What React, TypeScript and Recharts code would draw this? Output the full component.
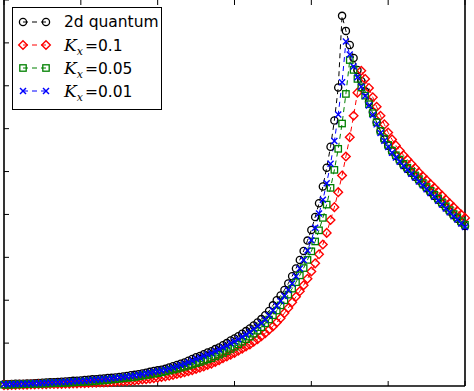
import React from 'react';
import { Line, LineChart, XAxis, YAxis } from 'recharts';

// temperature grid (x) and the four curves
const temps = [
  0, 0.05, 0.1, 0.15, 0.2, 0.25, 0.3, 0.35, 0.4, 0.45,
  0.5, 0.55, 0.6, 0.65, 0.7, 0.75, 0.8, 0.85, 0.9, 0.95,
  1, 1.05, 1.1, 1.15, 1.2, 1.25, 1.3, 1.35, 1.4, 1.45,
  1.5, 1.55, 1.6, 1.65, 1.7, 1.75, 1.8, 1.85, 1.9, 1.95,
  2, 2.05, 2.1, 2.15, 2.2, 2.25, 2.3, 2.35, 2.4, 2.45,
  2.5, 2.55, 2.6, 2.65, 2.7, 2.75, 2.8, 2.85, 2.9, 2.95,
  3, 3.05, 3.1, 3.15, 3.2, 3.25, 3.3, 3.35, 3.4, 3.45,
  3.5, 3.55, 3.6, 3.65, 3.7, 3.75, 3.8, 3.85, 3.9, 3.95,
  4, 4.05, 4.1, 4.15, 4.2, 4.25, 4.3, 4.35, 4.4, 4.45,
  4.5, 4.55, 4.6, 4.65, 4.7, 4.75, 4.8, 4.85, 4.9, 4.95,
  5, 5.05, 5.1, 5.15, 5.2, 5.25, 5.3, 5.35, 5.4, 5.45,
  5.5, 5.55, 5.6, 5.65, 5.7, 5.75, 5.8, 5.85, 5.9, 5.95,
  6,
];

const quantum2d = [
  0.04, 0.04, 0.045, 0.05, 0.05, 0.055, 0.06, 0.06, 0.065, 0.07,
  0.075, 0.08, 0.085, 0.09, 0.095, 0.1, 0.105, 0.11, 0.12, 0.125,
  0.13, 0.14, 0.145, 0.155, 0.16, 0.17, 0.175, 0.185, 0.19, 0.2,
  0.21, 0.22, 0.235, 0.25, 0.26, 0.275, 0.29, 0.31, 0.33, 0.35,
  0.365, 0.38, 0.4, 0.43, 0.46, 0.49, 0.52, 0.55, 0.59, 0.63,
  0.67, 0.7, 0.74, 0.78, 0.81, 0.86, 0.9, 0.95, 1.0, 1.06,
  1.11, 1.16, 1.22, 1.28, 1.34, 1.41, 1.48, 1.56, 1.65, 1.75,
  1.88, 2.0, 2.11, 2.24, 2.39, 2.56, 2.74, 2.94, 3.15, 3.39,
  3.64, 3.94, 4.26, 4.65, 5.09, 5.58, 6.19, 6.96, 8.63, 8.28,
  7.95, 7.65, 7.37, 7.11, 6.87, 6.63, 6.39, 6.15, 5.94, 5.75,
  5.6, 5.47, 5.36, 5.25, 5.15, 5.06, 4.97, 4.88, 4.79, 4.7,
  4.61, 4.52, 4.43, 4.34, 4.25, 4.16, 4.07, 3.98, 3.9, 3.81,
  3.73,
];

const kx01 = [
  0.02, 0.02, 0.025, 0.025, 0.03, 0.03, 0.03, 0.035, 0.035, 0.04,
  0.04, 0.04, 0.045, 0.045, 0.05, 0.05, 0.055, 0.055, 0.06, 0.06,
  0.065, 0.065, 0.07, 0.075, 0.075, 0.08, 0.085, 0.09, 0.095, 0.1,
  0.105, 0.11, 0.12, 0.125, 0.13, 0.14, 0.15, 0.16, 0.17, 0.18,
  0.195, 0.21, 0.225, 0.24, 0.26, 0.28, 0.3, 0.32, 0.345, 0.37,
  0.395, 0.425, 0.455, 0.49, 0.52, 0.56, 0.6, 0.65, 0.69, 0.73,
  0.77, 0.82, 0.87, 0.92, 0.97, 1.03, 1.09, 1.16, 1.23, 1.31,
  1.39, 1.48, 1.58, 1.7, 1.82, 1.95, 2.08, 2.21, 2.35, 2.5,
  2.67, 2.86, 3.07, 3.3, 3.57, 3.87, 4.17, 4.52, 4.91, 5.35,
  5.8, 6.3, 6.84, 7.35, 7.16, 6.95, 6.73, 6.51, 6.3, 6.1,
  5.91, 5.75, 5.61, 5.49, 5.38, 5.28, 5.18, 5.08, 4.98, 4.89,
  4.8, 4.71, 4.62, 4.53, 4.44, 4.35, 4.26, 4.17, 4.08, 4.0,
  3.92,
];

const kx005 = [
  0.03, 0.03, 0.035, 0.035, 0.04, 0.04, 0.045, 0.045, 0.05, 0.05,
  0.055, 0.06, 0.06, 0.065, 0.07, 0.07, 0.075, 0.08, 0.085, 0.09,
  0.095, 0.1, 0.105, 0.11, 0.12, 0.125, 0.13, 0.14, 0.15, 0.16,
  0.17, 0.18, 0.19, 0.2, 0.21, 0.225, 0.24, 0.255, 0.27, 0.285,
  0.3, 0.32, 0.34, 0.36, 0.38, 0.4, 0.425, 0.45, 0.475, 0.5,
  0.53, 0.56, 0.59, 0.62, 0.65, 0.69, 0.73, 0.77, 0.815, 0.865,
  0.915, 0.97, 1.03, 1.09, 1.15, 1.22, 1.29, 1.37, 1.46, 1.55,
  1.65, 1.76, 1.88, 2.0, 2.13, 2.27, 2.42, 2.58, 2.75, 2.94,
  3.14, 3.37, 3.63, 3.92, 4.23, 4.62, 5.04, 5.53, 6.12, 6.81,
  7.6, 7.37, 7.16, 6.96, 6.77, 6.57, 6.36, 6.15, 5.95, 5.77,
  5.62, 5.49, 5.38, 5.28, 5.18, 5.09, 5.0, 4.91, 4.82, 4.73,
  4.64, 4.55, 4.46, 4.37, 4.28, 4.19, 4.1, 4.01, 3.93, 3.84,
  3.76,
];

const kx001 = [
  0.04, 0.04, 0.045, 0.045, 0.05, 0.055, 0.055, 0.06, 0.065, 0.065,
  0.07, 0.075, 0.08, 0.085, 0.09, 0.095, 0.1, 0.105, 0.11, 0.115,
  0.12, 0.125, 0.135, 0.14, 0.15, 0.155, 0.165, 0.17, 0.18, 0.19,
  0.2, 0.21, 0.22, 0.235, 0.245, 0.26, 0.275, 0.295, 0.31, 0.33,
  0.345, 0.36, 0.38, 0.405, 0.43, 0.46, 0.49, 0.52, 0.555, 0.59,
  0.63, 0.66, 0.7, 0.735, 0.765, 0.81, 0.85, 0.895, 0.94, 0.995,
  1.04, 1.09, 1.15, 1.2, 1.26, 1.33, 1.4, 1.47, 1.55, 1.65,
  1.76, 1.87, 1.98, 2.1, 2.24, 2.39, 2.56, 2.74, 2.94, 3.16,
  3.4, 3.69, 4.02, 4.34, 4.73, 5.18, 5.71, 6.33, 7.08, 8.03,
  7.73, 7.45, 7.2, 6.98, 6.76, 6.54, 6.32, 6.1, 5.9, 5.72,
  5.57, 5.44, 5.33, 5.23, 5.13, 5.04, 4.95, 4.86, 4.77, 4.68,
  4.59, 4.5, 4.41, 4.32, 4.23, 4.14, 4.05, 3.96, 3.88, 3.79,
  3.71,
];

const xTicks = [0, 1, 2, 3, 4, 5, 6];
const yTicks = [0, 1, 2, 3, 4, 5, 6, 7, 8, 9];

const rows = temps.map((t, i) => ({
  t,
  q: quantum2d[i],
  k1: kx01[i],
  k2: kx005[i],
  k3: kx001[i],
}));

type Shape = 'circle' | 'diamond' | 'square' | 'cross';

function Marker({ cx, cy, shape, color }: { cx: number; cy: number; shape: Shape; color: string }) {
  if (shape === 'circle') {
    return <circle cx={cx} cy={cy} r={3.6} fill="none" stroke={color} strokeWidth={1.3} />;
  }
  if (shape === 'diamond') {
    const r = 4.3;
    return (
      <polygon
        points={`${cx},${cy - r} ${cx + r},${cy} ${cx},${cy + r} ${cx - r},${cy}`}
        fill="none"
        stroke={color}
        strokeWidth={1.4}
      />
    );
  }
  if (shape === 'square') {
    return <rect x={cx - 3.2} y={cy - 3.2} width={6.4} height={6.4} fill="none" stroke={color} strokeWidth={1.3} />;
  }
  const d = 3;
  return (
    <g stroke={color} strokeWidth={1.4}>
      <line x1={cx - d} y1={cy - d} x2={cx + d} y2={cy + d} />
      <line x1={cx - d} y1={cy + d} x2={cx + d} y2={cy - d} />
    </g>
  );
}

const dotFor = (shape: Shape, color: string) => (props: any) => {
  const { cx, cy, index } = props;
  if (cx == null || cy == null) return <g key={`${shape}-${index}`} />;
  return <Marker key={`${shape}-${index}`} cx={cx} cy={cy} shape={shape} color={color} />;
};

const series: Array<{ key: string; color: string; shape: Shape }> = [
  { key: 'q', color: '#000000', shape: 'circle' },
  { key: 'k1', color: '#ff0000', shape: 'diamond' },
  { key: 'k2', color: '#008000', shape: 'square' },
  { key: 'k3', color: '#0000ff', shape: 'cross' },
];

function LegendRow({ shape, color, children }: { shape: Shape; color: string; children: React.ReactNode }) {
  return (
    <div style={{ display: 'flex', alignItems: 'center', height: 23 }}>
      <svg width={46} height={16} style={{ marginLeft: 3 }}>
        <line x1={7} y1={8} x2={30} y2={8} stroke={color} strokeWidth={1} strokeDasharray="5 4" />
        <Marker cx={7} cy={8} shape={shape} color={color} />
        <Marker cx={30} cy={8} shape={shape} color={color} />
      </svg>
      <span style={{ marginLeft: 2 }}>{children}</span>
    </div>
  );
}

function Kx({ v }: { v: string }) {
  return (
    <span>
      <span style={{ fontFamily: '"DejaVu Serif", serif', fontStyle: 'italic', fontSize: 17 }}>K</span>
      <span style={{ fontFamily: '"DejaVu Serif", serif', fontStyle: 'italic', fontSize: 11, position: 'relative', top: 4 }}>
        x
      </span>
      <span style={{ marginLeft: 2 }}>={v}</span>
    </span>
  );
}

export default function App() {
  const axisLine = { stroke: '#000', strokeWidth: 1.6 };
  const tickLine = { stroke: '#000', strokeWidth: 1 };
  const noLabel = () => '';
  return (
    <div style={{ position: 'absolute', left: 0, top: 0, width: 474, height: 391, background: '#fff' }}>
      <LineChart width={474} height={391} data={rows} margin={{ top: -1, right: 8, bottom: 4, left: 3 }}>
        <XAxis
          xAxisId="b"
          type="number"
          dataKey="t"
          domain={[0, 6]}
          ticks={xTicks}
          height={1}
          tickSize={-5}
          tickFormatter={noLabel}
          axisLine={axisLine}
          tickLine={tickLine}
        />
        <XAxis
          xAxisId="top"
          orientation="top"
          type="number"
          dataKey="t"
          domain={[0, 6]}
          ticks={xTicks}
          height={1}
          tickSize={-5}
          tickFormatter={noLabel}
          axisLine={false}
          tickLine={tickLine}
        />
        <YAxis
          yAxisId="l"
          type="number"
          domain={[0, 9]}
          ticks={yTicks}
          width={1}
          tickSize={-5}
          tickFormatter={noLabel}
          axisLine={axisLine}
          tickLine={tickLine}
        />
        <YAxis
          yAxisId="r"
          orientation="right"
          type="number"
          domain={[0, 9]}
          ticks={yTicks}
          width={1}
          tickSize={-5}
          tickFormatter={noLabel}
          axisLine={axisLine}
          tickLine={tickLine}
        />
        {series.map((s) => (
          <Line
            key={s.key}
            xAxisId="b"
            yAxisId="l"
            type="linear"
            dataKey={s.key}
            stroke={s.color}
            strokeWidth={1}
            strokeDasharray="5 4"
            dot={dotFor(s.shape, s.color)}
            activeDot={false}
            isAnimationActive={false}
          />
        ))}
      </LineChart>
      <div
        style={{
          position: 'absolute',
          left: 12,
          top: 7,
          width: 148,
          height: 99,
          border: '1.5px solid #000',
          background: '#fff',
          fontFamily: '"DejaVu Sans", sans-serif',
          fontSize: 15.5,
          color: '#000',
          paddingTop: 2,
          boxSizing: 'content-box',
        }}
      >
        <LegendRow shape="circle" color="#000000">2d quantum</LegendRow>
        <LegendRow shape="diamond" color="#ff0000">
          <Kx v="0.1" />
        </LegendRow>
        <LegendRow shape="square" color="#008000">
          <Kx v="0.05" />
        </LegendRow>
        <LegendRow shape="cross" color="#0000ff">
          <Kx v="0.01" />
        </LegendRow>
      </div>
    </div>
  );
}
